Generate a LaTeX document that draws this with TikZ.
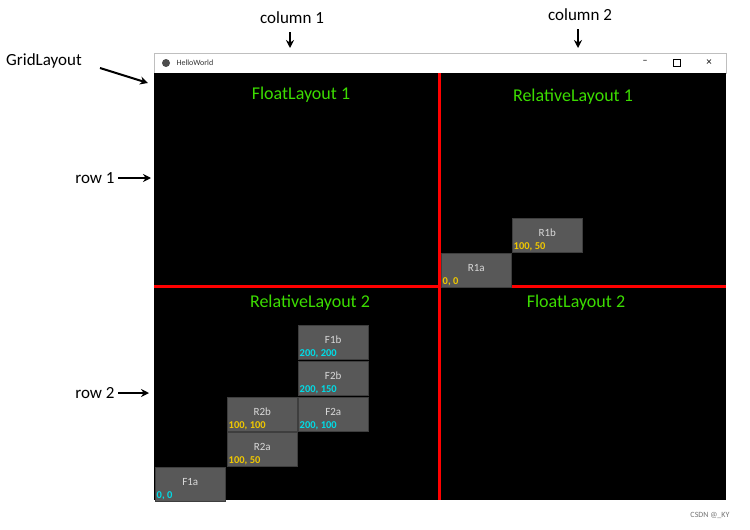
\documentclass[tikz,border=0pt]{standalone}
\usepackage{fontspec}
\setmainfont{Carlito}
\usetikzlibrary{arrows.meta}
\definecolor{grn}{RGB}{60,220,0}
\definecolor{btn}{RGB}{88,88,88}
\definecolor{cyn}{RGB}{0,220,230}
\definecolor{ylw}{RGB}{240,200,0}
\begin{document}
\begin{tikzpicture}[x=1pt,y=-1pt,
  btnbox/.style={fill=btn,draw=btn!70!black,minimum width=70pt,minimum height=34pt,inner sep=0pt},
  ann/.style={font=\fontsize{17}{19}\selectfont},
  arr/.style={-{Stealth[length=8pt,width=8pt]},line width=2pt},
  ttl/.style={text=grn,font=\fontsize{18}{20}\selectfont},
  lbl/.style={text=white!85!black,inner sep=0pt,font=\fontsize{11}{12}\selectfont}]
\useasboundingbox (0,0) rectangle (750,530);
\fill[white] (0,0) rectangle (750,530);
% window
\node[draw=black!25,fill=white,minimum width=572pt,minimum height=20pt,inner sep=0pt,anchor=north west] (bar) at (154,53) {};
\fill[black!70] (166,63) circle (4pt);
\node[anchor=west,font=\fontsize{8}{9}\selectfont,text=black!80] (hw) at (173,63) {HelloWorld};
\node[font=\fontsize{10}{10}\selectfont] (mn) at (645,62) {–};
\node[draw,minimum width=7pt,minimum height=7pt,inner sep=0pt,line width=0.6pt] (mx) at (677,63) {};
\node[font=\fontsize{11}{11}\selectfont] (cl) at (709,63) {×};
\node[fill=black,minimum width=572pt,minimum height=427pt,inner sep=0pt,anchor=north west] (win) at (154,73) {};
\draw[red,line width=3pt] (439,73) -- (439,500);
\draw[red,line width=3pt] (154,286) -- (726,286);
\node[ttl] (t1) at (301,95) {FloatLayout 1};
\node[ttl] (t2) at (573,97) {RelativeLayout 1};
\node[ttl] (t3) at (310,303) {RelativeLayout 2};
\node[ttl] (t4) at (576,303) {FloatLayout 2};
% buttons
\newcommand{\btnx}[6]{%
 \node[btnbox,anchor=north west] (#1) at (#2,#3) {};
 \node[lbl] at ([yshift=2pt]#1.center) {#4};
 \node[anchor=south west,inner xsep=1.5pt,inner ysep=1pt,text=#6,font=\bfseries\fontsize{10.5}{11}\selectfont] at (#1.south west) {#5};}
\btnx{r1a}{441}{253}{R1a}{0, 0}{ylw}
\btnx{r1b}{512}{218}{R1b}{100, 50}{ylw}
\btnx{f1a}{155}{467}{F1a}{0, 0}{cyn}
\btnx{r2a}{227}{432}{R2a}{100, 50}{ylw}
\btnx{r2b}{227}{397}{R2b}{100, 100}{ylw}
\btnx{f2a}{298}{397}{F2a}{200, 100}{cyn}
\btnx{f2b}{298}{361}{F2b}{200, 150}{cyn}
\btnx{f1b}{298}{325}{F1b}{200, 200}{cyn}
% annotations
\node[ann] (gl) at (44,61) {GridLayout};
\coordinate (gle) at (148,83);
\draw[arr] (100,68) -- (gle);
\node[ann] (c1) at (292,18) {column 1};
\coordinate (c1e) at (290,48);
\draw[arr] (290,32) -- (c1e);
\node[ann] (c2) at (580,15) {column 2};
\coordinate (c2e) at (578,48);
\draw[arr] (578,29) -- (c2e);
\node[ann] (r1) at (95,178) {row 1};
\coordinate (r1e) at (151,178);
\draw[arr] (r1.east) -- (r1e);
\node[ann] (r2) at (95,393) {row 2};
\coordinate (r2e) at (149,393);
\draw[arr] (r2.east) -- (r2e);
\node[text=black!55,font=\fontsize{8}{9}\selectfont] (wm) at (710,515) {CSDN @\_KY};
\end{tikzpicture}
\end{document}
